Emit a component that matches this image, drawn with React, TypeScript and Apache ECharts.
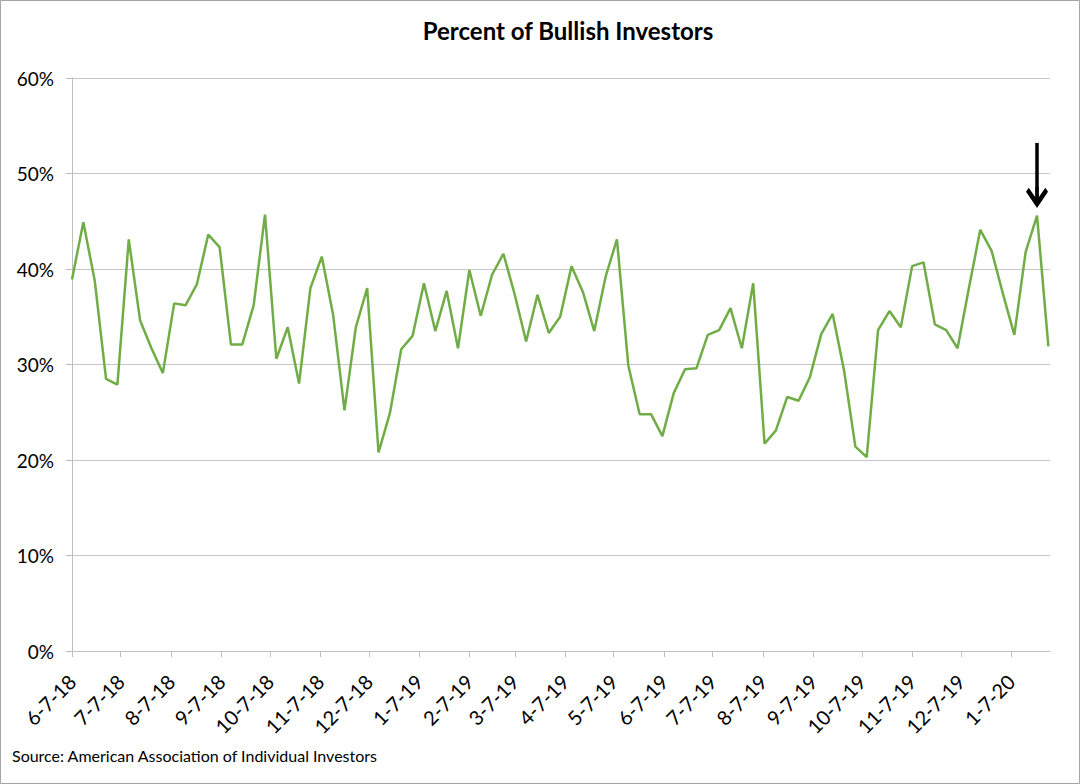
import { useRef, useEffect } from 'react'
import * as echarts from 'echarts'

// weekly AAII survey dates (M-D-YY)
const weekDates = [
  '6-7-18', '6-14-18', '6-21-18', '6-28-18',
  '7-5-18', '7-12-18', '7-19-18', '7-26-18',
  '8-2-18', '8-9-18', '8-16-18', '8-23-18', '8-30-18',
  '9-6-18', '9-13-18', '9-20-18', '9-27-18',
  '10-4-18', '10-11-18', '10-18-18', '10-25-18',
  '11-1-18', '11-8-18', '11-15-18', '11-22-18', '11-29-18',
  '12-6-18', '12-13-18', '12-20-18', '12-27-18',
  '1-3-19', '1-10-19', '1-17-19', '1-24-19', '1-31-19',
  '2-7-19', '2-14-19', '2-21-19', '2-28-19',
  '3-7-19', '3-14-19', '3-21-19', '3-28-19',
  '4-4-19', '4-11-19', '4-18-19', '4-25-19',
  '5-2-19', '5-9-19', '5-16-19', '5-23-19', '5-30-19',
  '6-6-19', '6-13-19', '6-20-19', '6-27-19',
  '7-4-19', '7-11-19', '7-18-19', '7-25-19',
  '8-1-19', '8-8-19', '8-15-19', '8-22-19', '8-29-19',
  '9-5-19', '9-12-19', '9-19-19', '9-26-19',
  '10-3-19', '10-10-19', '10-17-19', '10-24-19', '10-31-19',
  '11-7-19', '11-14-19', '11-21-19', '11-28-19',
  '12-5-19', '12-12-19', '12-19-19', '12-26-19',
  '1-2-20', '1-9-20', '1-16-20', '1-23-20', '1-30-20',
]

// percent bullish, one per week
const bullish = [
  38.9, 44.9, 38.8, 28.5,
  27.9, 43.1, 34.6, 31.7,
  29.1, 36.4, 36.2, 38.4, 43.6,
  42.3, 32.1, 32.1, 36.2,
  45.7, 30.6, 33.9, 28.0,
  38.0, 41.3, 35.2, 25.2, 33.9,
  38.0, 20.8, 24.9, 31.6,
  33.0, 38.5, 33.5, 37.7, 31.7,
  39.9, 35.1, 39.4, 41.6,
  37.3, 32.4, 37.3, 33.3,
  35.0, 40.3, 37.6, 33.5,
  39.2, 43.1, 29.9, 24.8, 24.8,
  22.5, 27.0, 29.5, 29.6,
  33.1, 33.6, 35.9, 31.7,
  38.5, 21.7, 23.1, 26.6, 26.2,
  28.7, 33.2, 35.3, 29.4,
  21.4, 20.3, 33.6, 35.6, 33.9,
  40.3, 40.7, 34.2, 33.6,
  31.7, 38.0, 44.1, 41.9,
  37.4, 33.1, 41.8, 45.6, 31.9,
]

const monthLabels = [
  '6-7-18', '7-7-18', '8-7-18', '9-7-18', '10-7-18', '11-7-18', '12-7-18',
  '1-7-19', '2-7-19', '3-7-19', '4-7-19', '5-7-19', '6-7-19', '7-7-19',
  '8-7-19', '9-7-19', '10-7-19', '11-7-19', '12-7-19', '1-7-20',
]

const axisEndDate = '1-31-20'
const arrowDate = '1-23-20'
const arrowFrom = 53.2
const arrowTo = 47.5

const FONT = 'Lato, "Open Sans", sans-serif'

const parseDate = (s: string) => {
  const [m, d, y] = s.split('-').map(Number)
  return Date.UTC(2000 + y, m - 1, d)
}
const start = parseDate(weekDates[0])
const dayOf = (s: string) => Math.round((parseDate(s) - start) / 86400000)

export default function App() {
  const chartRef = useRef<HTMLDivElement>(null)

  useEffect(() => {
    if (!chartRef.current) return
    const chart = echarts.init(chartRef.current, undefined, { renderer: 'svg' })

    const labelByDay = new Map(monthLabels.map((l) => [dayOf(l), l]))
    const tickDays = monthLabels.map(dayOf)
    const lineData = weekDates.map((d, i) => [dayOf(d), bullish[i]])

    chart.setOption({
      animation: false,
      backgroundColor: '#fff',
      title: {
        text: 'Percent of Bullish Investors',
        left: 563,
        top: 13,
        textAlign: 'center',
        textStyle: { fontFamily: FONT, fontSize: 24, fontWeight: 'bold', color: '#000' },
      },
      grid: { left: 72, right: 30, top: 78, bottom: 133 },
      xAxis: {
        type: 'value',
        min: 0,
        max: dayOf(axisEndDate),
        axisLine: { lineStyle: { color: '#bfbfbf', width: 1 } },
        axisTick: { show: true, length: 6, lineStyle: { color: '#bfbfbf' }, customValues: tickDays },
        axisLabel: {
          customValues: tickDays,
          rotate: 45,
          margin: 27,
          fontFamily: FONT,
          fontSize: 20,
          color: '#000',
          formatter: (v: number) => labelByDay.get(v) ?? '',
        },
        splitLine: { show: false },
      },
      yAxis: {
        type: 'value',
        min: 0,
        max: 60,
        interval: 10,
        axisLine: { show: true, lineStyle: { color: '#bfbfbf', width: 1 } },
        axisTick: { show: true, length: 6, lineStyle: { color: '#bfbfbf' } },
        axisLabel: { formatter: '{value}%', margin: 18, fontFamily: FONT, fontSize: 19, color: '#000' },
        splitLine: { lineStyle: { color: '#c6c6c6', width: 1 } },
      },
      series: [
        {
          type: 'line',
          data: lineData,
          showSymbol: false,
          lineStyle: { color: '#70ad47', width: 2.5 },
          itemStyle: { color: '#70ad47' },
          markLine: {
            silent: true,
            animation: false,
            symbol: ['none', 'path://M10 0 L20 10 L17.5 12.5 L10 5 L2.5 12.5 L0 10 Z M8.5 2 L11.5 2 L11.5 13 L8.5 13 Z'],
            symbolSize: [22, 21],
            label: { show: false },
            lineStyle: { color: '#000', width: 3.5, type: 'solid' },
            data: [[
              { coord: [dayOf(arrowDate), arrowFrom] },
              { coord: [dayOf(arrowDate), arrowTo] },
            ]],
          },
        },
      ],
      graphic: [
        {
          type: 'text',
          left: 12,
          top: 747,
          style: { text: 'Source: American Association of Individual Investors', font: `16px ${FONT}`, fill: '#000' },
        },
        {
          type: 'rect',
          silent: true,
          shape: { x: 0.5, y: 0.5, width: 1079, height: 783 },
          style: { fill: 'none', stroke: '#a6a6a6', lineWidth: 1 },
        },
      ],
    })

    return () => chart.dispose()
  }, [])

  return (
    <div
      ref={chartRef}
      style={{ position: 'fixed', left: 0, top: 0, width: 1080, height: 784, background: '#fff' }}
    />
  )
}
